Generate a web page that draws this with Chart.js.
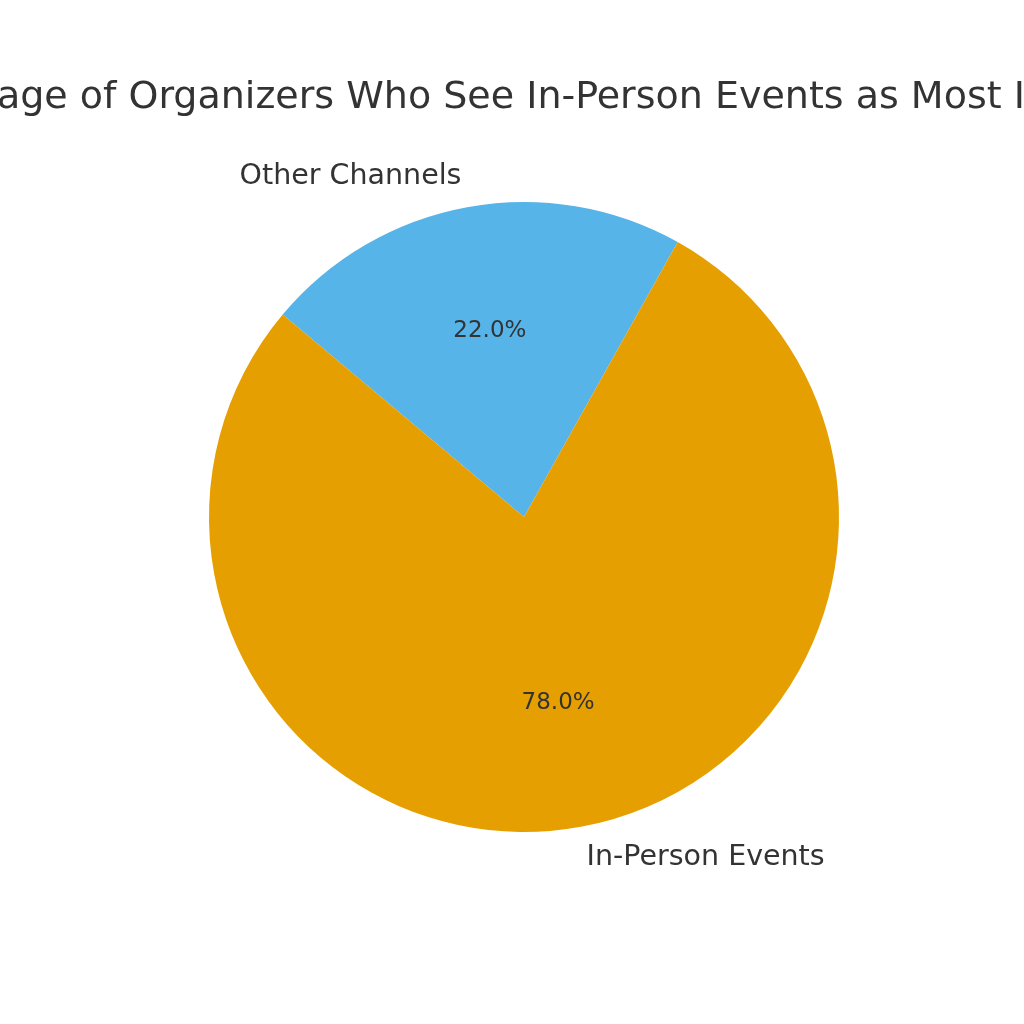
<!DOCTYPE html>
<html>
<head>
<meta charset="utf-8">
<script src="https://cdn.jsdelivr.net/npm/chart.js@4"></script>
<style>
  html, body { margin: 0; padding: 0; background: #ffffff; }
  #wrap { width: 1024px; height: 1024px; }
</style>
</head>
<body>
<div id="wrap"><canvas id="pieChart" width="1024" height="1024"></canvas></div>
<script>
const chartTitle = 'Percentage of Organizers Who See In-Person Events as Most Important';
const labels = ['Other Channels', 'In-Person Events'];
const values = [22.0, 78.0];
const colors = ['#56B4E9', '#E69F00'];

const textColor = '#333333';
const fontFamily = '"DejaVu Sans", sans-serif';

// draws title, outer labels and percentages the way the original did
const pieLabels = {
    id: 'pieLabels',
    afterDatasetsDraw(chart) {
        const ctx = chart.ctx;
        const arcs = chart.getDatasetMeta(0).data;
        const total = values.reduce((a, b) => a + b, 0);
        ctx.save();
        ctx.fillStyle = textColor;

        arcs.forEach((arc, i) => {
            const mid = (arc.startAngle + arc.endAngle) / 2;
            const r = arc.outerRadius;
            const cx = Math.cos(mid);
            const cy = Math.sin(mid);

            ctx.font = '28.5px ' + fontFamily;
            ctx.textBaseline = 'middle';
            ctx.textAlign = cx >= 0 ? 'left' : 'right';
            ctx.fillText(labels[i], arc.x + cx * r * 1.1, arc.y + cy * r * 1.1);

            ctx.font = '23px ' + fontFamily;
            ctx.textAlign = 'center';
            const pct = (values[i] / total * 100).toFixed(1) + '%';
            ctx.fillText(pct, arc.x + cx * r * 0.6, arc.y + cy * r * 0.6);
        });

        const first = arcs[0];
        ctx.font = '38px ' + fontFamily;
        ctx.textAlign = 'center';
        ctx.textBaseline = 'alphabetic';
        ctx.fillText(chartTitle, first.x + 4, 108);
        ctx.restore();
    }
};

new Chart(document.getElementById('pieChart').getContext('2d'), {
    type: 'pie',
    data: {
        labels: labels,
        datasets: [{
            data: values,
            backgroundColor: colors,
            borderWidth: 0
        }]
    },
    options: {
        responsive: false,
        animation: false,
        rotation: -50,
        layout: {
            padding: { left: 209, right: 185, top: 202, bottom: 192 }
        },
        plugins: {
            legend: { display: false },
            tooltip: { enabled: false },
            title: { display: false }
        }
    },
    plugins: [pieLabels]
});
</script>
</body>
</html>
